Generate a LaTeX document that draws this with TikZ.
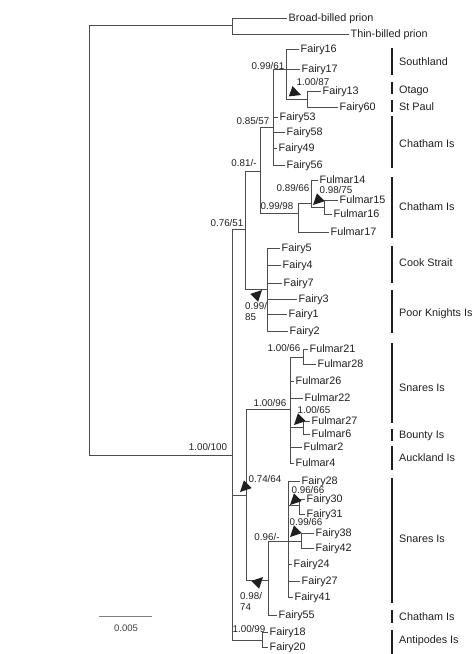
\documentclass[tikz,border=0pt]{standalone}
\usepackage{fontspec}
\setmainfont{Liberation Sans}
\definecolor{linec}{gray}{0.3}
\definecolor{txt}{gray}{0.12}
\newcommand\arrowtri[3]{\fill[txt,shift={(#1,#2)},rotate=#3] (0,0) -- (-11,-5.5) -- (-11,5.5) -- cycle;}
\begin{document}
\begin{tikzpicture}[x=1pt,y=-1pt,
  br/.style={draw=linec,line width=0.8pt},
  taxon/.style={anchor=west,inner xsep=1.5pt,inner ysep=0pt,text height=8pt,text depth=1.5pt,font=\fontsize{10.8}{12}\selectfont,text=txt},
  supp/.style={inner sep=0pt,font=\fontsize{9.8}{11}\selectfont,text=txt},
  region/.style={anchor=west,inner sep=0pt,text height=8pt,text depth=1.5pt,font=\fontsize{10.8}{12}\selectfont,text=txt},
  barl/.style={draw=txt,line width=1.2pt}]
\useasboundingbox (0,0) rectangle (474,654);
% internal nodes
\coordinate (root) at (89,240);
\coordinate (prion) at (232,25);
\coordinate (ingrp) at (232,455);
\coordinate (a) at (245,229);
\coordinate (b) at (260,171);
\coordinate (d) at (273,127);
\coordinate (f) at (286,69);
\coordinate (h) at (307,99);
\coordinate (e) at (298,213);
\coordinate (i) at (311,203);
\coordinate (j) at (324,207);
\coordinate (ck) at (267,289);
\coordinate (c74) at (246,495);
\coordinate (k) at (290,409);
\coordinate (m) at (303,357);
\coordinate (n) at (303,427);
\coordinate (l) at (268,580);
\coordinate (o) at (288,541);
\coordinate (p) at (299,505);
\coordinate (q) at (301,541);
\coordinate (ant) at (262,640);
% leaves
\node[taxon] (BB) at (287,18) {Broad-billed prion};
\node[taxon] (TB) at (349,34) {Thin-billed prion};
\node[taxon] (F16) at (299,49) {Fairy16};
\node[taxon] (F17) at (300,69) {Fairy17};
\node[taxon] (F13) at (321,91) {Fairy13};
\node[taxon] (F60) at (338,107) {Fairy60};
\node[taxon] (F53) at (278,117) {Fairy53};
\node[taxon] (F58) at (285,132) {Fairy58};
\node[taxon] (F49) at (277,148) {Fairy49};
\node[taxon] (F56) at (285,165) {Fairy56};
\node[taxon] (M14) at (318,180) {Fulmar14};
\node[taxon] (M15) at (338,200) {Fulmar15};
\node[taxon] (M16) at (332,214) {Fulmar16};
\node[taxon] (M17) at (329,232) {Fulmar17};
\node[taxon] (F5) at (280,248) {Fairy5};
\node[taxon] (F4) at (281,265) {Fairy4};
\node[taxon] (F7) at (282,283) {Fairy7};
\node[taxon] (F3) at (297,299) {Fairy3};
\node[taxon] (F1) at (287,314) {Fairy1};
\node[taxon] (F2) at (288,331) {Fairy2};
\node[taxon] (M21) at (308,349) {Fulmar21};
\node[taxon] (M28) at (316,364) {Fulmar28};
\node[taxon] (M26) at (294,381) {Fulmar26};
\node[taxon] (M22) at (303,398) {Fulmar22};
\node[taxon] (M27) at (310,421) {Fulmar27};
\node[taxon] (M6) at (310,434) {Fulmar6};
\node[taxon] (M2) at (302,447) {Fulmar2};
\node[taxon] (M4) at (294,463) {Fulmar4};
\node[taxon] (F28) at (300,481) {Fairy28};
\node[taxon] (F30) at (305,499) {Fairy30};
\node[taxon] (F31) at (305,514) {Fairy31};
\node[taxon] (F38) at (314,533) {Fairy38};
\node[taxon] (F42) at (314,548) {Fairy42};
\node[taxon] (F24) at (292,564) {Fairy24};
\node[taxon] (F27) at (300,581) {Fairy27};
\node[taxon] (F41) at (293,597) {Fairy41};
\node[taxon] (F55) at (277,615) {Fairy55};
\node[taxon] (F18) at (268,632) {Fairy18};
\node[taxon] (F20) at (268,647) {Fairy20};
% branches
\draw[br] (root) |- (prion) (root) |- (ingrp);
\draw[br] (prion) |- (BB.west) (prion) |- (TB.west);
\draw[br] (ingrp) |- (a) (ingrp) |- (c74) (ingrp) |- (ant);
\draw[br] (a) |- (b) (a) |- (ck);
\draw[br] (b) |- (d) (b) |- (e);
\draw[br] (d) |- (f) (d) |- (F53.west) (d) |- (F58.west) (d) |- (F49.west) (d) |- (F56.west);
\draw[br] (f) |- (F16.west) (f) |- (F17.west) (f) |- (h);
\draw[br] (h) |- (F13.west) (h) |- (F60.west);
\draw[br] (e) |- (i) (e) |- (M17.west);
\draw[br] (i) |- (M14.west) (i) |- (j);
\draw[br] (j) |- (M15.west) (j) |- (M16.west);
\draw[br] (ck) |- (F5.west) (ck) |- (F4.west) (ck) |- (F7.west) (ck) |- (F3.west) (ck) |- (F1.west) (ck) |- (F2.west);
\draw[br] (c74) |- (k) (c74) |- (l);
\draw[br] (k) |- (m) (k) |- (M26.west) (k) |- (M22.west) (k) |- (n) (k) |- (M2.west) (k) |- (M4.west);
\draw[br] (m) |- (M21.west) (m) |- (M28.west);
\draw[br] (n) |- (M27.west) (n) |- (M6.west);
\draw[br] (l) |- (o) (l) |- (F55.west);
\draw[br] (o) |- (F28.west) (o) |- (p) (o) |- (q) (o) |- (F24.west) (o) |- (F27.west) (o) |- (F41.west);
\draw[br] (p) |- (F30.west) (p) |- (F31.west);
\draw[br] (q) |- (F38.west) (q) |- (F42.west);
\draw[br] (ant) |- (F18.west) (ant) |- (F20.west);
% support values
\node[supp] (s1) at (268,66) {0.99/61};
\node[supp] (s2) at (313,82) {1.00/87};
\node[supp] (s3) at (253,121) {0.85/57};
\node[supp] (s4) at (244,163) {0.81/-};
\node[supp] (s5) at (293,188) {0.89/66};
\node[supp] (s6) at (336,190) {0.98/75};
\node[supp] (s7) at (277,206) {0.99/98};
\node[supp] (s8) at (227,223) {0.76/51};
\node[supp,anchor=north west,align=left,font=\fontsize{9.8}{11.5}\selectfont] (s9) at (245,302) {0.99/\\85};
\node[supp] (s10) at (284,348) {1.00/66};
\node[supp] (s11) at (270,403) {1.00/96};
\node[supp] (s12) at (314,410) {1.00/65};
\node[supp] (s13) at (208,447) {1.00/100};
\node[supp] (s14) at (265,479) {0.74/64};
\node[supp] (s15) at (308,490) {0.96/66};
\node[supp] (s16) at (306,522) {0.99/66};
\node[supp] (s17) at (267,537) {0.96/-};
\node[supp,anchor=north west,align=left,font=\fontsize{9.8}{11.5}\selectfont] (s18) at (240,592) {0.98/\\74};
\node[supp] (s19) at (249,629) {1.00/99};
% triangles
\arrowtri{301}{95}{-20}
\arrowtri{313}{205}{-135}
\arrowtri{262}{290}{45}
\arrowtri{294}{425}{-135}
\arrowtri{240}{492}{-135}
\arrowtri{290}{505}{-135}
\arrowtri{290}{537}{-135}
\arrowtri{263}{577}{45}
% region bars
\draw[barl] (392,48) -- (392,75);
\draw[barl] (392,82) -- (392,94);
\draw[barl] (392,100) -- (392,112);
\draw[barl] (392,116) -- (392,168);
\draw[barl] (392,177) -- (392,238);
\draw[barl] (392,246) -- (392,283);
\draw[barl] (392,290) -- (392,333);
\draw[barl] (392,343) -- (392,423);
\draw[barl] (392,429) -- (392,441);
\draw[barl] (392,446) -- (392,470);
\draw[barl] (392,478) -- (392,603);
\draw[barl] (392,610) -- (392,623);
\draw[barl] (392,630) -- (392,654);
\node[region] (r1) at (399,62) {Southland};
\node[region] (r2) at (399,90) {Otago};
\node[region] (r3) at (399,107) {St Paul};
\node[region] (r4) at (399,144) {Chatham Is};
\node[region] (r5) at (399,207) {Chatham Is};
\node[region] (r6) at (399,263) {Cook Strait};
\node[region] (r7) at (399,313) {Poor Knights Is};
\node[region] (r8) at (399,388) {Snares Is};
\node[region] (r9) at (399,435) {Bounty Is};
\node[region] (r10) at (399,458) {Auckland Is};
\node[region] (r11) at (399,539) {Snares Is};
\node[region] (r12) at (399,617) {Chatham Is};
\node[region] (r13) at (399,640) {Antipodes Is};
% scale bar
\coordinate (sb1) at (99,616);
\coordinate (sb2) at (152,616);
\draw[draw=gray,line width=1pt] (sb1) -- (sb2);
\node[inner sep=0pt,font=\fontsize{9.5}{11}\selectfont,text=black!75] (sbl) at (126,628) {0.005};
\end{tikzpicture}
\end{document}
